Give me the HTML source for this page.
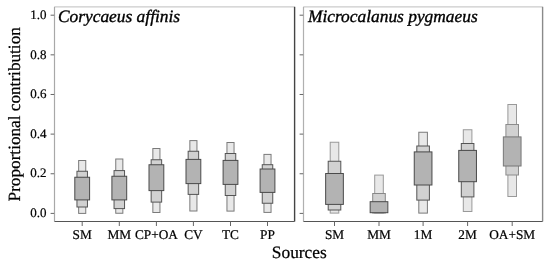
<!DOCTYPE html>
<html><head><meta charset="utf-8"><style>
html,body{margin:0;padding:0;background:#fff;width:550px;height:264px;overflow:hidden}
svg{display:block}
text{font-family:"Liberation Serif",serif;fill:#000;stroke:#000;stroke-width:0.22px;text-rendering:geometricPrecision}
.tl{font-size:13.3px}
.ti{font-size:17.4px;font-style:italic;stroke-width:0.35px}
.ax{font-size:17.4px}
</style></head><body>
<svg width="550" height="264" viewBox="0 0 550 264">
<rect width="550" height="264" fill="#fff"/>
<line x1="54.5" y1="6.8" x2="294.6" y2="6.8" stroke="#cbcbcb" stroke-width="1.2"/><line x1="54.5" y1="6.8" x2="54.5" y2="221.5" stroke="#a8a8a8" stroke-width="1.2"/><line x1="294.6" y1="6.8" x2="294.6" y2="221.5" stroke="#444" stroke-width="1.4"/><line x1="54.5" y1="221.5" x2="294.6" y2="221.5" stroke="#555" stroke-width="1.1"/>
<line x1="303.5" y1="6.8" x2="542.6" y2="6.8" stroke="#cbcbcb" stroke-width="1.2"/><line x1="303.5" y1="6.8" x2="303.5" y2="221.5" stroke="#b0b0b0" stroke-width="1.2"/><line x1="542.6" y1="6.8" x2="542.6" y2="221.5" stroke="#8a8a8a" stroke-width="1.4"/><line x1="303.5" y1="221.5" x2="542.6" y2="221.5" stroke="#555" stroke-width="1.1"/>
<g>
<rect x="78.65" y="160.50" width="7.10" height="52.90" fill="#e8e8e8" stroke="#7a7a7a" stroke-width="1.0"/>
<rect x="76.95" y="171.25" width="10.50" height="35.75" fill="#d1d1d1" stroke="#555" stroke-width="1.0"/>
<rect x="74.80" y="177.25" width="14.80" height="22.65" fill="#b3b3b3" stroke="#4a4a4a" stroke-width="1.0"/>
<rect x="115.75" y="159.00" width="7.10" height="54.25" fill="#e8e8e8" stroke="#7a7a7a" stroke-width="1.0"/>
<rect x="114.05" y="170.60" width="10.50" height="38.00" fill="#d1d1d1" stroke="#555" stroke-width="1.0"/>
<rect x="111.90" y="176.25" width="14.80" height="23.65" fill="#b3b3b3" stroke="#4a4a4a" stroke-width="1.0"/>
<rect x="152.85" y="148.50" width="7.10" height="64.00" fill="#e8e8e8" stroke="#7a7a7a" stroke-width="1.0"/>
<rect x="151.15" y="159.75" width="10.50" height="42.35" fill="#d1d1d1" stroke="#555" stroke-width="1.0"/>
<rect x="149.00" y="164.75" width="14.80" height="25.85" fill="#b3b3b3" stroke="#4a4a4a" stroke-width="1.0"/>
<rect x="189.85" y="140.60" width="7.10" height="70.40" fill="#e8e8e8" stroke="#7a7a7a" stroke-width="1.0"/>
<rect x="188.15" y="151.25" width="10.50" height="43.15" fill="#d1d1d1" stroke="#555" stroke-width="1.0"/>
<rect x="186.00" y="159.40" width="14.80" height="24.20" fill="#b3b3b3" stroke="#4a4a4a" stroke-width="1.0"/>
<rect x="226.95" y="142.50" width="7.10" height="68.60" fill="#e8e8e8" stroke="#7a7a7a" stroke-width="1.0"/>
<rect x="225.25" y="153.50" width="10.50" height="42.00" fill="#d1d1d1" stroke="#555" stroke-width="1.0"/>
<rect x="223.10" y="160.40" width="14.80" height="24.00" fill="#b3b3b3" stroke="#4a4a4a" stroke-width="1.0"/>
<rect x="263.95" y="154.40" width="7.10" height="58.00" fill="#e8e8e8" stroke="#7a7a7a" stroke-width="1.0"/>
<rect x="262.25" y="164.70" width="10.50" height="38.55" fill="#d1d1d1" stroke="#555" stroke-width="1.0"/>
<rect x="260.10" y="169.00" width="14.80" height="23.40" fill="#b3b3b3" stroke="#4a4a4a" stroke-width="1.0"/>
<rect x="330.20" y="142.25" width="8.60" height="70.85" fill="#e8e8e8" stroke="#999" stroke-width="1.0"/>
<rect x="328.20" y="161.25" width="12.60" height="48.75" fill="#d1d1d1" stroke="#555" stroke-width="1.0"/>
<rect x="325.65" y="173.50" width="17.70" height="30.90" fill="#b3b3b3" stroke="#4a4a4a" stroke-width="1.0"/>
<rect x="374.70" y="175.10" width="8.60" height="37.90" fill="#e8e8e8" stroke="#999" stroke-width="1.0"/>
<rect x="372.70" y="193.50" width="12.60" height="19.50" fill="#d1d1d1" stroke="#888" stroke-width="1.0"/>
<rect x="370.15" y="201.70" width="17.70" height="11.00" fill="#b3b3b3" stroke="#4a4a4a" stroke-width="1.0"/>
<rect x="418.80" y="132.25" width="8.60" height="80.85" fill="#e8e8e8" stroke="#7a7a7a" stroke-width="1.0"/>
<rect x="416.80" y="146.00" width="12.60" height="54.10" fill="#d1d1d1" stroke="#555" stroke-width="1.0"/>
<rect x="414.25" y="151.90" width="17.70" height="33.10" fill="#b3b3b3" stroke="#4a4a4a" stroke-width="1.0"/>
<rect x="463.30" y="129.75" width="8.60" height="81.75" fill="#e8e8e8" stroke="#999" stroke-width="1.0"/>
<rect x="461.30" y="143.50" width="12.60" height="53.40" fill="#d1d1d1" stroke="#555" stroke-width="1.0"/>
<rect x="458.75" y="150.40" width="17.70" height="31.30" fill="#b3b3b3" stroke="#4a4a4a" stroke-width="1.0"/>
<rect x="507.90" y="104.50" width="8.60" height="92.00" fill="#e8e8e8" stroke="#999" stroke-width="1.0"/>
<rect x="505.90" y="124.50" width="12.60" height="50.50" fill="#d1d1d1" stroke="#8c8c8c" stroke-width="1.0"/>
<rect x="503.35" y="136.90" width="17.70" height="29.10" fill="#b3b3b3" stroke="#777" stroke-width="1.0"/>
</g>
<line x1="50.60" y1="213.40" x2="54.20" y2="213.40" stroke="#666" stroke-width="1"/>
<line x1="50.60" y1="173.76" x2="54.20" y2="173.76" stroke="#666" stroke-width="1"/>
<line x1="50.60" y1="134.12" x2="54.20" y2="134.12" stroke="#666" stroke-width="1"/>
<line x1="50.60" y1="94.48" x2="54.20" y2="94.48" stroke="#666" stroke-width="1"/>
<line x1="50.60" y1="54.84" x2="54.20" y2="54.84" stroke="#666" stroke-width="1"/>
<line x1="50.60" y1="15.20" x2="54.20" y2="15.20" stroke="#666" stroke-width="1"/>
<line x1="299.60" y1="213.40" x2="303.20" y2="213.40" stroke="#666" stroke-width="1"/>
<line x1="299.60" y1="173.76" x2="303.20" y2="173.76" stroke="#666" stroke-width="1"/>
<line x1="299.60" y1="134.12" x2="303.20" y2="134.12" stroke="#666" stroke-width="1"/>
<line x1="299.60" y1="94.48" x2="303.20" y2="94.48" stroke="#666" stroke-width="1"/>
<line x1="299.60" y1="54.84" x2="303.20" y2="54.84" stroke="#666" stroke-width="1"/>
<line x1="299.60" y1="15.20" x2="303.20" y2="15.20" stroke="#666" stroke-width="1"/>
<text x="46.4" y="217.10" text-anchor="end" class="tl" style="font-size:13px">0.0</text>
<text x="46.4" y="177.46" text-anchor="end" class="tl" style="font-size:13px">0.2</text>
<text x="46.4" y="137.82" text-anchor="end" class="tl" style="font-size:13px">0.4</text>
<text x="46.4" y="98.18" text-anchor="end" class="tl" style="font-size:13px">0.6</text>
<text x="46.4" y="58.54" text-anchor="end" class="tl" style="font-size:13px">0.8</text>
<text x="46.4" y="18.90" text-anchor="end" class="tl" style="font-size:13px">1.0</text>
<line x1="82.20" y1="221.5" x2="82.20" y2="226" stroke="#666" stroke-width="1"/>
<text x="82.20" y="238.7" text-anchor="middle" class="tl">SM</text>
<line x1="119.30" y1="221.5" x2="119.30" y2="226" stroke="#666" stroke-width="1"/>
<text x="119.30" y="238.7" text-anchor="middle" class="tl">MM</text>
<line x1="156.40" y1="221.5" x2="156.40" y2="226" stroke="#666" stroke-width="1"/>
<text x="156.40" y="238.7" text-anchor="middle" class="tl">CP+OA</text>
<line x1="193.40" y1="221.5" x2="193.40" y2="226" stroke="#666" stroke-width="1"/>
<text x="193.40" y="238.7" text-anchor="middle" class="tl">CV</text>
<line x1="230.50" y1="221.5" x2="230.50" y2="226" stroke="#666" stroke-width="1"/>
<text x="230.50" y="238.7" text-anchor="middle" class="tl">TC</text>
<line x1="267.50" y1="221.5" x2="267.50" y2="226" stroke="#666" stroke-width="1"/>
<text x="267.50" y="238.7" text-anchor="middle" class="tl">PP</text>
<line x1="334.50" y1="221.5" x2="334.50" y2="226" stroke="#666" stroke-width="1"/>
<text x="334.50" y="238.7" text-anchor="middle" class="tl">SM</text>
<line x1="379.00" y1="221.5" x2="379.00" y2="226" stroke="#666" stroke-width="1"/>
<text x="379.00" y="238.7" text-anchor="middle" class="tl">MM</text>
<line x1="423.10" y1="221.5" x2="423.10" y2="226" stroke="#666" stroke-width="1"/>
<text x="423.10" y="238.7" text-anchor="middle" class="tl">1M</text>
<line x1="467.60" y1="221.5" x2="467.60" y2="226" stroke="#666" stroke-width="1"/>
<text x="467.60" y="238.7" text-anchor="middle" class="tl">2M</text>
<line x1="512.20" y1="221.5" x2="512.20" y2="226" stroke="#666" stroke-width="1"/>
<text x="512.20" y="238.7" text-anchor="middle" class="tl">OA+SM</text>
<text x="57.9" y="21.5" class="ti">Corycaeus affinis</text>
<text x="307.9" y="21.5" class="ti">Microcalanus pygmaeus</text>
<text x="299.3" y="257.5" text-anchor="middle" class="ax">Sources</text>
<text transform="translate(19.5,114.3) rotate(-90)" text-anchor="middle" class="ax" style="font-size:17.2px">Proportional contribution</text>
</svg>
</body></html>
